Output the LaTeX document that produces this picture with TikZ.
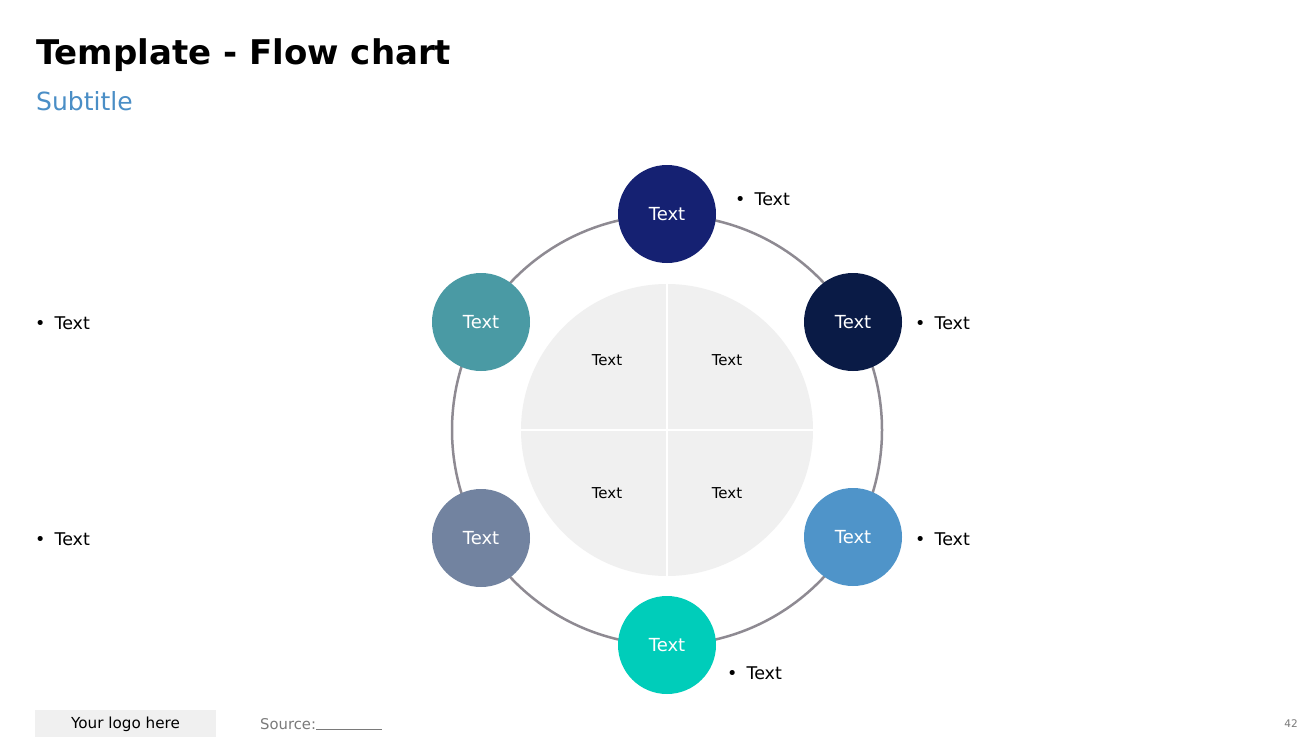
\documentclass[tikz,border=0pt]{standalone}
\usepackage{fontspec}
\setmainfont{DejaVu Sans}
\definecolor{ringgray}{HTML}{8E8A92}
\definecolor{piegray}{HTML}{F0F0F0}
\definecolor{cTop}{HTML}{152172}
\definecolor{cTR}{HTML}{0A1B46}
\definecolor{cTL}{HTML}{4A9AA4}
\definecolor{cBL}{HTML}{7283A0}
\definecolor{cBR}{HTML}{4F94C9}
\definecolor{cBot}{HTML}{00CDBA}
\definecolor{subblue}{HTML}{4A8EC6}
\definecolor{srcgray}{HTML}{7A7A7A}
\tikzset{
  px/.style={x=1pt,y=-1pt},
  stepnode/.style={circle,minimum size=98pt,inner sep=0pt,text=white,font=\fontsize{18}{20}\selectfont},
  bullettext/.style={anchor=west,font=\fontsize{17.5}{20}\selectfont,inner sep=0pt},
  quadtext/.style={font=\fontsize{15}{17}\selectfont,inner sep=0pt},
}
\begin{document}
\begin{tikzpicture}[px]
\useasboundingbox (0,0) rectangle (1311,752);
\fill[white] (0,0) rectangle (1311,752);
% title
\node[anchor=base west,inner sep=0pt,font=\fontsize{34}{40}\selectfont\bfseries] (title) at (36,64) {Template - Flow chart};
\node[anchor=base west,inner sep=0pt,text=subblue,font=\fontsize{25}{29}\selectfont] (subtitle) at (36,110) {Subtitle};
% ring
\coordinate (c) at (667,430);
\draw[ringgray,line width=2.5pt] (c) circle[radius=215];
% pie
\fill[piegray] (c) circle[radius=146];
\draw[white,line width=2.5pt] (667,280) -- (667,580);
\draw[white,line width=2.5pt] (515,430) -- (819,430);
\node[quadtext] (q1) at (607,360) {Text};
\node[quadtext] (q2) at (727,360) {Text};
\node[quadtext] (q3) at (607,493) {Text};
\node[quadtext] (q4) at (727,493) {Text};
% step nodes
\node[stepnode,fill=cTop] (n1) at (667,214) {Text};
\node[stepnode,fill=cTR] (n2) at (853,322) {Text};
\node[stepnode,fill=cBR] (n3) at (853,537) {Text};
\node[stepnode,fill=cBot] (n4) at (667,645) {Text};
\node[stepnode,fill=cBL] (n5) at (481,538) {Text};
\node[stepnode,fill=cTL] (n6) at (481,322) {Text};
% bullets
\node[bullettext] (b1) at (735,199) {•\hspace{9pt}Text};
\node[bullettext] (b2) at (915,323) {•\hspace{9pt}Text};
\node[bullettext] (b3) at (915,539) {•\hspace{9pt}Text};
\node[bullettext] (b4) at (727,673) {•\hspace{9pt}Text};
\node[bullettext] (b5) at (35,323) {•\hspace{9pt}Text};
\node[bullettext] (b6) at (35,539) {•\hspace{9pt}Text};
% footer
\fill[piegray] (35,710) rectangle (216,737);
\node[inner sep=0pt,font=\fontsize{15.2}{17}\selectfont] (logo) at (125.5,724) {Your logo here};
\node[anchor=west,inner sep=0pt,text=srcgray,font=\fontsize{14.8}{17}\selectfont] (src) at (260,724) {Source:\rule[-1pt]{66pt}{0.6pt}};
\node[inner sep=0pt,text=srcgray,font=\fontsize{10.5}{12}\selectfont] (pg) at (1291,724) {42};
\end{tikzpicture}
\end{document}
